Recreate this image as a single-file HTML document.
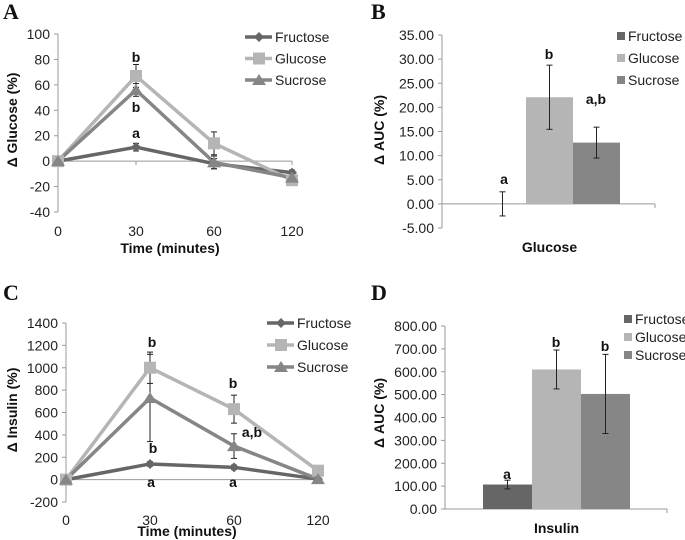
<!DOCTYPE html>
<html><head><meta charset="utf-8">
<style>
body{margin:0;background:#fff;}
svg{display:block;font-family:"Liberation Sans",sans-serif;}
.t{font-size:14px;fill:#222;}
.b{font-size:14px;font-weight:bold;fill:#111;}
.L{font-family:"Liberation Serif",serif;font-size:22px;font-weight:bold;fill:#111;}
</style></head><body>
<svg id="s" width="685" height="540"></svg>
<script>
const timeCats=["0","30","60","120"];
const seriesNames=["Fructose","Glucose","Sucrose"];
const glucFru=[0,11,-2,-9], glucGlu=[0,67,14,-15], glucSuc=[0,56,-1,-13];
const glucFruErr=[0,3,4,2], glucGluErr=[0,9,9,3], glucSucErr=[0,5,5,3];
const glucTicks=[100,80,60,40,20,0,-20,-40];
const insFru=[0,140,110,5], insGlu=[0,1000,630,80], insSuc=[0,730,300,5];
const insFruErr=[0,20,20,5], insGluErr=[0,140,125,10], insSucErr=[0,390,110,5];
const insTicks=[1400,1200,1000,800,600,400,200,0,-200];
const aucGlu=[0,22.1,12.7], aucGluErr=[2.5,6.65,3.2];
const aucGluTicks=["35.00","30.00","25.00","20.00","15.00","10.00","5.00","0.00","-5.00"];
const aucIns=[107,610,503], aucInsErr=[19,85,173];
const aucInsTicks=["800.00","700.00","600.00","500.00","400.00","300.00","200.00","100.00","0.00"];
const colors=["#666666","#b5b5b5","#868686"];
const S=document.getElementById('s');const NS="http://www.w3.org/2000/svg";
function mk(tag,a,txt){const e=document.createElementNS(NS,tag);for(const k in a)e.setAttribute(k,a[k]);if(txt!==undefined)e.textContent=txt;S.appendChild(e);return e;}
function txt(x,y,s,cls,anchor,name,extra){const e=mk('text',Object.assign({x:x,y:y,class:cls,'text-anchor':anchor||'start'},extra||{}),s);

return e;}
function line(x1,y1,x2,y2,st,w,name){const e=mk('line',{x1:x1,y1:y1,x2:x2,y2:y2,stroke:st,'stroke-width':w});

return e;}
function errbar(x,y1,y2,name){line(x,y1,x,y2,'#222',1,name);line(x-3,y1,x+3,y1,'#222',1,name+'-cap');line(x-3,y2,x+3,y2,'#222',1,name+'-cap');}
function marker(i,x,y,name){let e;
if(i==0)e=mk('polygon',{points:`${x},${y-5} ${x+5},${y} ${x},${y+5} ${x-5},${y}`,fill:colors[0]});
else if(i==1)e=mk('rect',{x:x-6,y:y-6,width:12,height:12,fill:colors[1]});
else e=mk('polygon',{points:`${x},${y-6} ${x+7},${y+5} ${x-7},${y+5}`,fill:colors[2]});

}
function linePanel(o){
 const y=v=>o.y0-(v-o.vmin)/(o.vmax-o.vmin)*(o.y0-o.y1);
 const x=i=>o.x0+i*o.dx;
 line(o.x0,o.y1,o.x0,o.y0,'#999',1,'y-axis');
 o.ticks.forEach(t=>{line(o.x0-4,y(t),o.x0,y(t),'#999',1,'y-tick');txt(o.x0-8,y(t)+5,String(t),'t','end','y-tick-label');});
 line(o.x0,y(0),x(3),y(0),'#999',1,'x-axis');
 timeCats.forEach((c,i)=>{line(x(i),y(0),x(i),y(0)+4,'#999',1,'x-tick');txt(x(i),o.catY,c,'t','middle','x-tick-label');});
 o.series.forEach((s,si)=>{
  const pts=s.map((v,i)=>x(i)+','+y(v)).join(' ');
  const pl=mk('polyline',{points:pts,fill:'none',stroke:colors[si],'stroke-width':3.5});
  
  
 });
 o.series.forEach((s,si)=>{s.forEach((v,i)=>{if(o.errs[si][i]>0&&i>0)errbar(x(i),y(v+o.errs[si][i]),y(v-o.errs[si][i]),'error-bar');});});
 o.series.forEach((s,si)=>{s.forEach((v,i)=>marker(si,x(i),y(v),'marker-'+seriesNames[si].toLowerCase()));});
 seriesNames.forEach((n,i)=>{const ly=o.legY+i*o.legDy;line(o.legX,ly,o.legX+27,ly,colors[i],3.5,'legend-line');marker(i,o.legX+14,ly,'legend-marker');txt(o.legX+30,ly+5,n,'t','start','legend-entry');});
 o.labels.forEach(l=>txt(l[0],l[1],l[2],'b','middle','significance-label'));
 txt(o.x0+ (x(3)-o.x0)/2 - 5,o.titleY,'Time (minutes)','b','middle','x-axis-title');
 txt(0,0,o.ytitle,'b','middle','y-axis-title',{transform:`translate(${o.ytX},${o.ytY}) rotate(-90)`});
 txt(o.letX,o.letY,o.letter,'L','start','panel-label-'+o.letter.toLowerCase());
}
function barPanel(o){
 const y=v=>o.y0-(v-o.vmin)/(o.vmax-o.vmin)*(o.y0-o.y1);
 line(o.x0,o.y1,o.x0,o.y0,'#999',1,'y-axis');
 o.ticks.forEach(t=>{const v=parseFloat(t);line(o.x0-4,y(v),o.x0,y(v),'#999',1,'y-tick');txt(o.x0-8,y(v)+5,t,'t','end','y-tick-label');});
 line(o.x0,y(0),o.xEnd,y(0),'#999',1,'x-axis');
 line(o.xEnd,y(0),o.xEnd,y(0)+4,'#999',1,'x-tick');
 o.vals.forEach((v,i)=>{const bx=o.bx0+i*o.bw;
  const r=mk('rect',{x:bx,y:Math.min(y(v),y(0)),width:o.bw,height:Math.abs(y(0)-y(v)),fill:colors[i]});
  
  });
 o.vals.forEach((v,i)=>errbar(o.bx0+i*o.bw+o.bw/2,y(v+o.errs[i]),y(v-o.errs[i]),'error-bar'));
 seriesNames.forEach((n,i)=>{const ly=o.legY+i*o.legDy;const r=mk('rect',{x:o.legX,y:ly-4,width:8,height:8,fill:colors[i]});
  
  
  txt(o.legX+11,ly+5,n,'t','start','legend-entry');});
 o.labels.forEach(l=>txt(l[0],l[1],l[2],'b','middle','significance-label'));
 txt(o.bx0+1.5*o.bw,o.catY,o.cat,'b','middle','x-category-label');
 txt(0,0,'\u0394 AUC  (%)','b','middle','y-axis-title',{transform:`translate(${o.ytX},${o.ytY}) rotate(-90)`});
 txt(o.letX,o.letY,o.letter,'L','start','panel-label-'+o.letter.toLowerCase());
}
linePanel({x0:58,dx:78,y0:212,y1:34,vmin:-40,vmax:100,ticks:glucTicks,catY:236,titleY:253,
 series:[glucFru,glucGlu,glucSuc],errs:[glucFruErr,glucGluErr,glucSucErr],
 legX:245,legY:37,legDy:21.5,labels:[[136,62,'b'],[136,112,'b'],[136,138,'a']],
 ytitle:'\u0394 Glucose (%)',ytX:17,ytY:120,letX:3,letY:19,letter:'A'});
linePanel({x0:66,dx:84,y0:502,y1:323,vmin:-200,vmax:1400,ticks:insTicks,catY:525,titleY:536,
 series:[insFru,insGlu,insSuc],errs:[insFruErr,insGluErr,insSucErr],
 legX:267,legY:323,legDy:22,labels:[[152,347,'b'],[153,453,'b'],[151,487,'a'],[233,388,'b'],[252,437,'a,b'],[233,487,'a']],
 ytitle:'\u0394 Insulin (%)',ytX:17,ytY:410,letX:3,letY:300,letter:'C'});
barPanel({x0:442,y0:228,y1:35,vmin:-5,vmax:35,ticks:aucGluTicks,xEnd:655,bx0:479,bw:47,vals:aucGlu,errs:aucGluErr,
 legX:617,legY:36,legDy:22,labels:[[504,184,'a'],[549,59,'b'],[596,104,'a,b']],cat:'Glucose',catY:252,
 ytX:384,ytY:130,letX:371,letY:19,letter:'B'});
barPanel({x0:445,y0:509,y1:326,vmin:0,vmax:800,ticks:aucInsTicks,xEnd:667,bx0:483,bw:49,vals:aucIns,errs:aucInsErr,
 legX:624,legY:319,legDy:18,labels:[[507,479,'a'],[556,347,'b'],[605,351,'b']],cat:'Insulin',catY:533,
 ytX:384,ytY:413,letX:371,letY:300,letter:'D'});
</script>
</body></html>
